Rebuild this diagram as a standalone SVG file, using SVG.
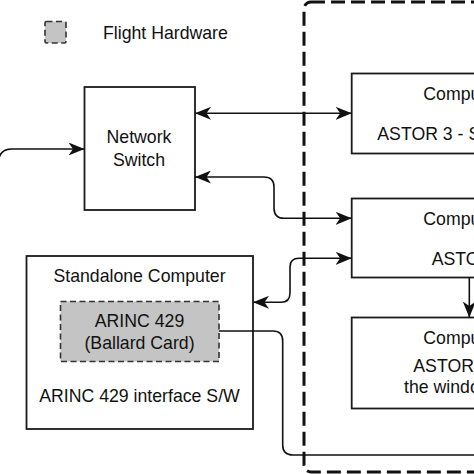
<svg xmlns="http://www.w3.org/2000/svg" width="474" height="474" viewBox="0 0 474 474">
<style>
.box{fill:#fff;stroke:#1a1a1a;stroke-width:1.8}
.card{fill:#c4c4c4;stroke:#333;stroke-width:1.6;stroke-dasharray:6,3.5}
.frame{fill:none;stroke:#111;stroke-width:3;stroke-dasharray:14,6}
.t{font-family:"Liberation Sans",Arial,sans-serif;font-size:17.7px;fill:#111}
.m{text-anchor:middle}
.ln{fill:none;stroke:#111;stroke-width:1.6}
</style>
<defs>
<marker id="ah" viewBox="0 0 16 13" refX="16" refY="6.5" markerWidth="16" markerHeight="13" markerUnits="userSpaceOnUse" orient="auto-start-reverse">
<path d="M0,0 L16,6.5 L0,13 L4.5,6.5 Z" fill="#111"/>
</marker>
</defs>
<rect x="0" y="0" width="474" height="474" fill="#fff"/>
<g id="legend">
<rect x="45" y="21.5" width="21" height="21.5" rx="1.5" class="card" stroke-width="2" stroke-dasharray="7,4"/>
<text x="103" y="39" class="t">Flight Hardware</text>
</g>
<g id="flight-frame">
<rect x="304" y="2" width="200" height="470" rx="7" class="frame"/>
</g>
<g id="network-switch">
<rect x="84.5" y="87" width="110.5" height="123" class="box"/>
<text x="139" y="143" class="t m">Network</text>
<text x="139" y="166" class="t m">Switch</text>
</g>
<g id="computer-1">
<rect x="351.7" y="73.5" width="140" height="80" class="box"/>
<text x="423.3" y="100" class="t">Compu</text>
<text x="377.3" y="140" class="t">ASTOR 3 - S</text>
</g>
<g id="computer-2">
<rect x="351.7" y="198.5" width="140" height="79" class="box"/>
<text x="423.3" y="224.5" class="t">Compu</text>
<text x="431.7" y="264.5" class="t">ASTO</text>
</g>
<g id="computer-3">
<rect x="351.7" y="317.5" width="140" height="91" class="box"/>
<text x="423.3" y="344.3" class="t">Compu</text>
<text x="413.3" y="371.7" class="t">ASTOR</text>
<text x="404" y="393.3" class="t">the windo</text>
</g>
<g id="standalone-computer">
<rect x="26.5" y="256" width="226.5" height="173" class="box"/>
<text x="139.5" y="281.7" class="t m">Standalone Computer</text>
<text x="139.5" y="401.7" class="t m">ARINC 429 interface S/W</text>
</g>
<g id="arinc-card">
<rect x="60.5" y="301.5" width="158.5" height="60" class="card"/>
<text x="139.5" y="326.7" class="t m">ARINC 429</text>
<text x="139.5" y="349.3" class="t m">(Ballard Card)</text>
</g>
<g id="connectors">
<path class="ln" d="M-2,165 Q-2,149 12,149 H84.5" marker-end="url(#ah)"/>
<path class="ln" d="M195,113.3 H351.7" marker-start="url(#ah)" marker-end="url(#ah)"/>
<path class="ln" d="M195,177 H264 Q274,177 274,187 V208 Q274,218.3 284,218.3 H351.7" marker-start="url(#ah)" marker-end="url(#ah)"/>
<path class="ln" d="M253,302.3 H281 Q290,302.3 290,293 V267 Q290,258.3 299,258.3 H351.7" marker-start="url(#ah)" marker-end="url(#ah)"/>
<path class="ln" d="M469.3,277.5 V317.5" marker-end="url(#ah)"/>
<path class="ln" d="M219,331 H273 Q282.7,331 282.7,341 V445 Q282.7,455 293,455 H480"/>
</g>
</svg>
